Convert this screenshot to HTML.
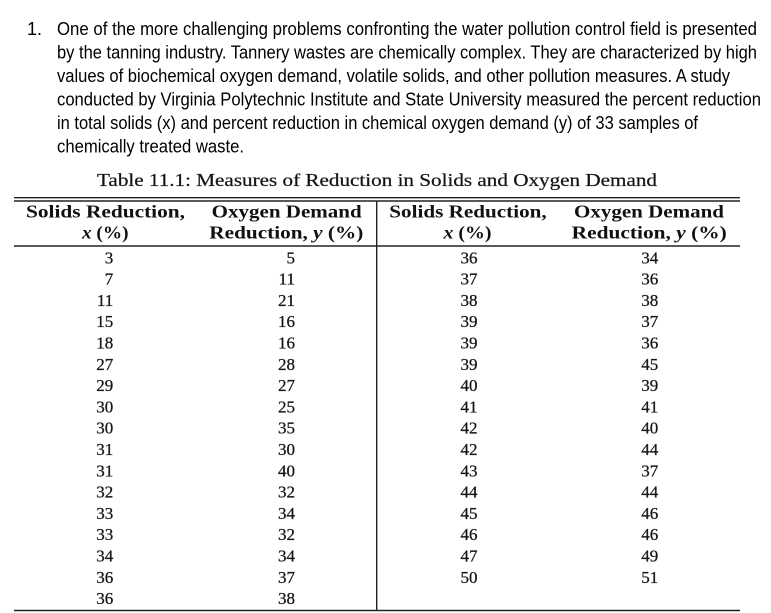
<!DOCTYPE html>
<html>
<head>
<meta charset="utf-8">
<style>
  html,body{margin:0;padding:0;background:#fff;}
  svg{display:block;}
  .p{font-family:"Liberation Sans",sans-serif;font-size:18px;fill:#000;}
  .cap{font-family:"Liberation Serif",serif;font-size:18px;fill:#111;stroke:#333;stroke-width:0.3px;}
  .h{font-family:"Liberation Serif",serif;font-size:17.5px;font-weight:bold;fill:#111;}
  .d{font-family:"Liberation Serif",serif;font-size:17px;fill:#111;stroke:#333;stroke-width:0.35px;text-anchor:end;}
</style>
</head>
<body>
<svg width="771" height="613" viewBox="0 0 771 613" xmlns="http://www.w3.org/2000/svg">
  <rect width="771" height="613" fill="#fff"/>
  <!-- paragraph -->
  <text class="p" x="27" y="35">1.</text>
  <text class="p" x="57" y="35" textLength="700" lengthAdjust="spacingAndGlyphs">One of the more challenging problems confronting the water pollution control field is presented</text>
  <text class="p" x="57" y="58.5" textLength="700" lengthAdjust="spacingAndGlyphs">by the tanning industry. Tannery wastes are chemically complex. They are characterized by high</text>
  <text class="p" x="57" y="82" textLength="673" lengthAdjust="spacingAndGlyphs">values of biochemical oxygen demand, volatile solids, and other pollution measures. A study</text>
  <text class="p" x="57" y="105.5" textLength="704" lengthAdjust="spacingAndGlyphs">conducted by Virginia Polytechnic Institute and State University measured the percent reduction</text>
  <text class="p" x="57" y="129" textLength="641" lengthAdjust="spacingAndGlyphs">in total solids (x) and percent reduction in chemical oxygen demand (y) of 33 samples of</text>
  <text class="p" x="57" y="152.5" textLength="187" lengthAdjust="spacingAndGlyphs">chemically treated waste.</text>

  <!-- caption -->
  <text class="cap" x="97" y="186" textLength="560" lengthAdjust="spacingAndGlyphs">Table 11.1: Measures of Reduction in Solids and Oxygen Demand</text>

  <!-- rules -->
  <g stroke="#222" stroke-width="1.4">
    <line x1="14" y1="197.7" x2="740" y2="197.7"/>
    <line x1="14" y1="201" x2="740" y2="201"/>
    <line x1="14" y1="246" x2="740" y2="246"/>
    <line x1="14" y1="610.5" x2="740" y2="610.5"/>
    <line x1="376.7" y1="201" x2="376.7" y2="610.5"/>
  </g>

  <!-- headers -->
  <text class="h" x="26" y="217.3" textLength="159" lengthAdjust="spacingAndGlyphs">Solids Reduction,</text>
  <text class="h" x="82" y="238.5" textLength="46.5" lengthAdjust="spacingAndGlyphs"><tspan font-style="italic">x</tspan> (%)</text>
  <text class="h" x="211.7" y="217.3" textLength="150" lengthAdjust="spacingAndGlyphs">Oxygen Demand</text>
  <text class="h" x="209.3" y="238.5" textLength="154" lengthAdjust="spacingAndGlyphs">Reduction, <tspan font-style="italic">y</tspan> (%)</text>
  <text class="h" x="389.3" y="217.3" textLength="157.4" lengthAdjust="spacingAndGlyphs">Solids Reduction,</text>
  <text class="h" x="443.5" y="238.5" textLength="48" lengthAdjust="spacingAndGlyphs"><tspan font-style="italic">x</tspan> (%)</text>
  <text class="h" x="574" y="217.3" textLength="150" lengthAdjust="spacingAndGlyphs">Oxygen Demand</text>
  <text class="h" x="571.7" y="238.5" textLength="155" lengthAdjust="spacingAndGlyphs">Reduction, <tspan font-style="italic">y</tspan> (%)</text>

  <!-- column 1 -->
  <g>
    <text class="d" x="113.3" y="263.3">3</text>
    <text class="d" x="113.3" y="284.6">7</text>
    <text class="d" x="113.3" y="305.9">11</text>
    <text class="d" x="113.3" y="327.2">15</text>
    <text class="d" x="113.3" y="348.5">18</text>
    <text class="d" x="113.3" y="369.8">27</text>
    <text class="d" x="113.3" y="391.1">29</text>
    <text class="d" x="113.3" y="412.4">30</text>
    <text class="d" x="113.3" y="433.7">30</text>
    <text class="d" x="113.3" y="455">31</text>
    <text class="d" x="113.3" y="476.3">31</text>
    <text class="d" x="113.3" y="497.6">32</text>
    <text class="d" x="113.3" y="518.9">33</text>
    <text class="d" x="113.3" y="540.2">33</text>
    <text class="d" x="113.3" y="561.5">34</text>
    <text class="d" x="113.3" y="582.8">36</text>
    <text class="d" x="113.3" y="604.1">36</text>
  </g>
  <!-- column 2 -->
  <g>
    <text class="d" x="295" y="263.3">5</text>
    <text class="d" x="295" y="284.6">11</text>
    <text class="d" x="295" y="305.9">21</text>
    <text class="d" x="295" y="327.2">16</text>
    <text class="d" x="295" y="348.5">16</text>
    <text class="d" x="295" y="369.8">28</text>
    <text class="d" x="295" y="391.1">27</text>
    <text class="d" x="295" y="412.4">25</text>
    <text class="d" x="295" y="433.7">35</text>
    <text class="d" x="295" y="455">30</text>
    <text class="d" x="295" y="476.3">40</text>
    <text class="d" x="295" y="497.6">32</text>
    <text class="d" x="295" y="518.9">34</text>
    <text class="d" x="295" y="540.2">32</text>
    <text class="d" x="295" y="561.5">34</text>
    <text class="d" x="295" y="582.8">37</text>
    <text class="d" x="295" y="604.1">38</text>
  </g>
  <!-- column 3 -->
  <g>
    <text class="d" x="477.5" y="263.3">36</text>
    <text class="d" x="477.5" y="284.6">37</text>
    <text class="d" x="477.5" y="305.9">38</text>
    <text class="d" x="477.5" y="327.2">39</text>
    <text class="d" x="477.5" y="348.5">39</text>
    <text class="d" x="477.5" y="369.8">39</text>
    <text class="d" x="477.5" y="391.1">40</text>
    <text class="d" x="477.5" y="412.4">41</text>
    <text class="d" x="477.5" y="433.7">42</text>
    <text class="d" x="477.5" y="455">42</text>
    <text class="d" x="477.5" y="476.3">43</text>
    <text class="d" x="477.5" y="497.6">44</text>
    <text class="d" x="477.5" y="518.9">45</text>
    <text class="d" x="477.5" y="540.2">46</text>
    <text class="d" x="477.5" y="561.5">47</text>
    <text class="d" x="477.5" y="582.8">50</text>
  </g>
  <!-- column 4 -->
  <g>
    <text class="d" x="658.3" y="263.3">34</text>
    <text class="d" x="658.3" y="284.6">36</text>
    <text class="d" x="658.3" y="305.9">38</text>
    <text class="d" x="658.3" y="327.2">37</text>
    <text class="d" x="658.3" y="348.5">36</text>
    <text class="d" x="658.3" y="369.8">45</text>
    <text class="d" x="658.3" y="391.1">39</text>
    <text class="d" x="658.3" y="412.4">41</text>
    <text class="d" x="658.3" y="433.7">40</text>
    <text class="d" x="658.3" y="455">44</text>
    <text class="d" x="658.3" y="476.3">37</text>
    <text class="d" x="658.3" y="497.6">44</text>
    <text class="d" x="658.3" y="518.9">46</text>
    <text class="d" x="658.3" y="540.2">46</text>
    <text class="d" x="658.3" y="561.5">49</text>
    <text class="d" x="658.3" y="582.8">51</text>
  </g>
</svg>
</body>
</html>
